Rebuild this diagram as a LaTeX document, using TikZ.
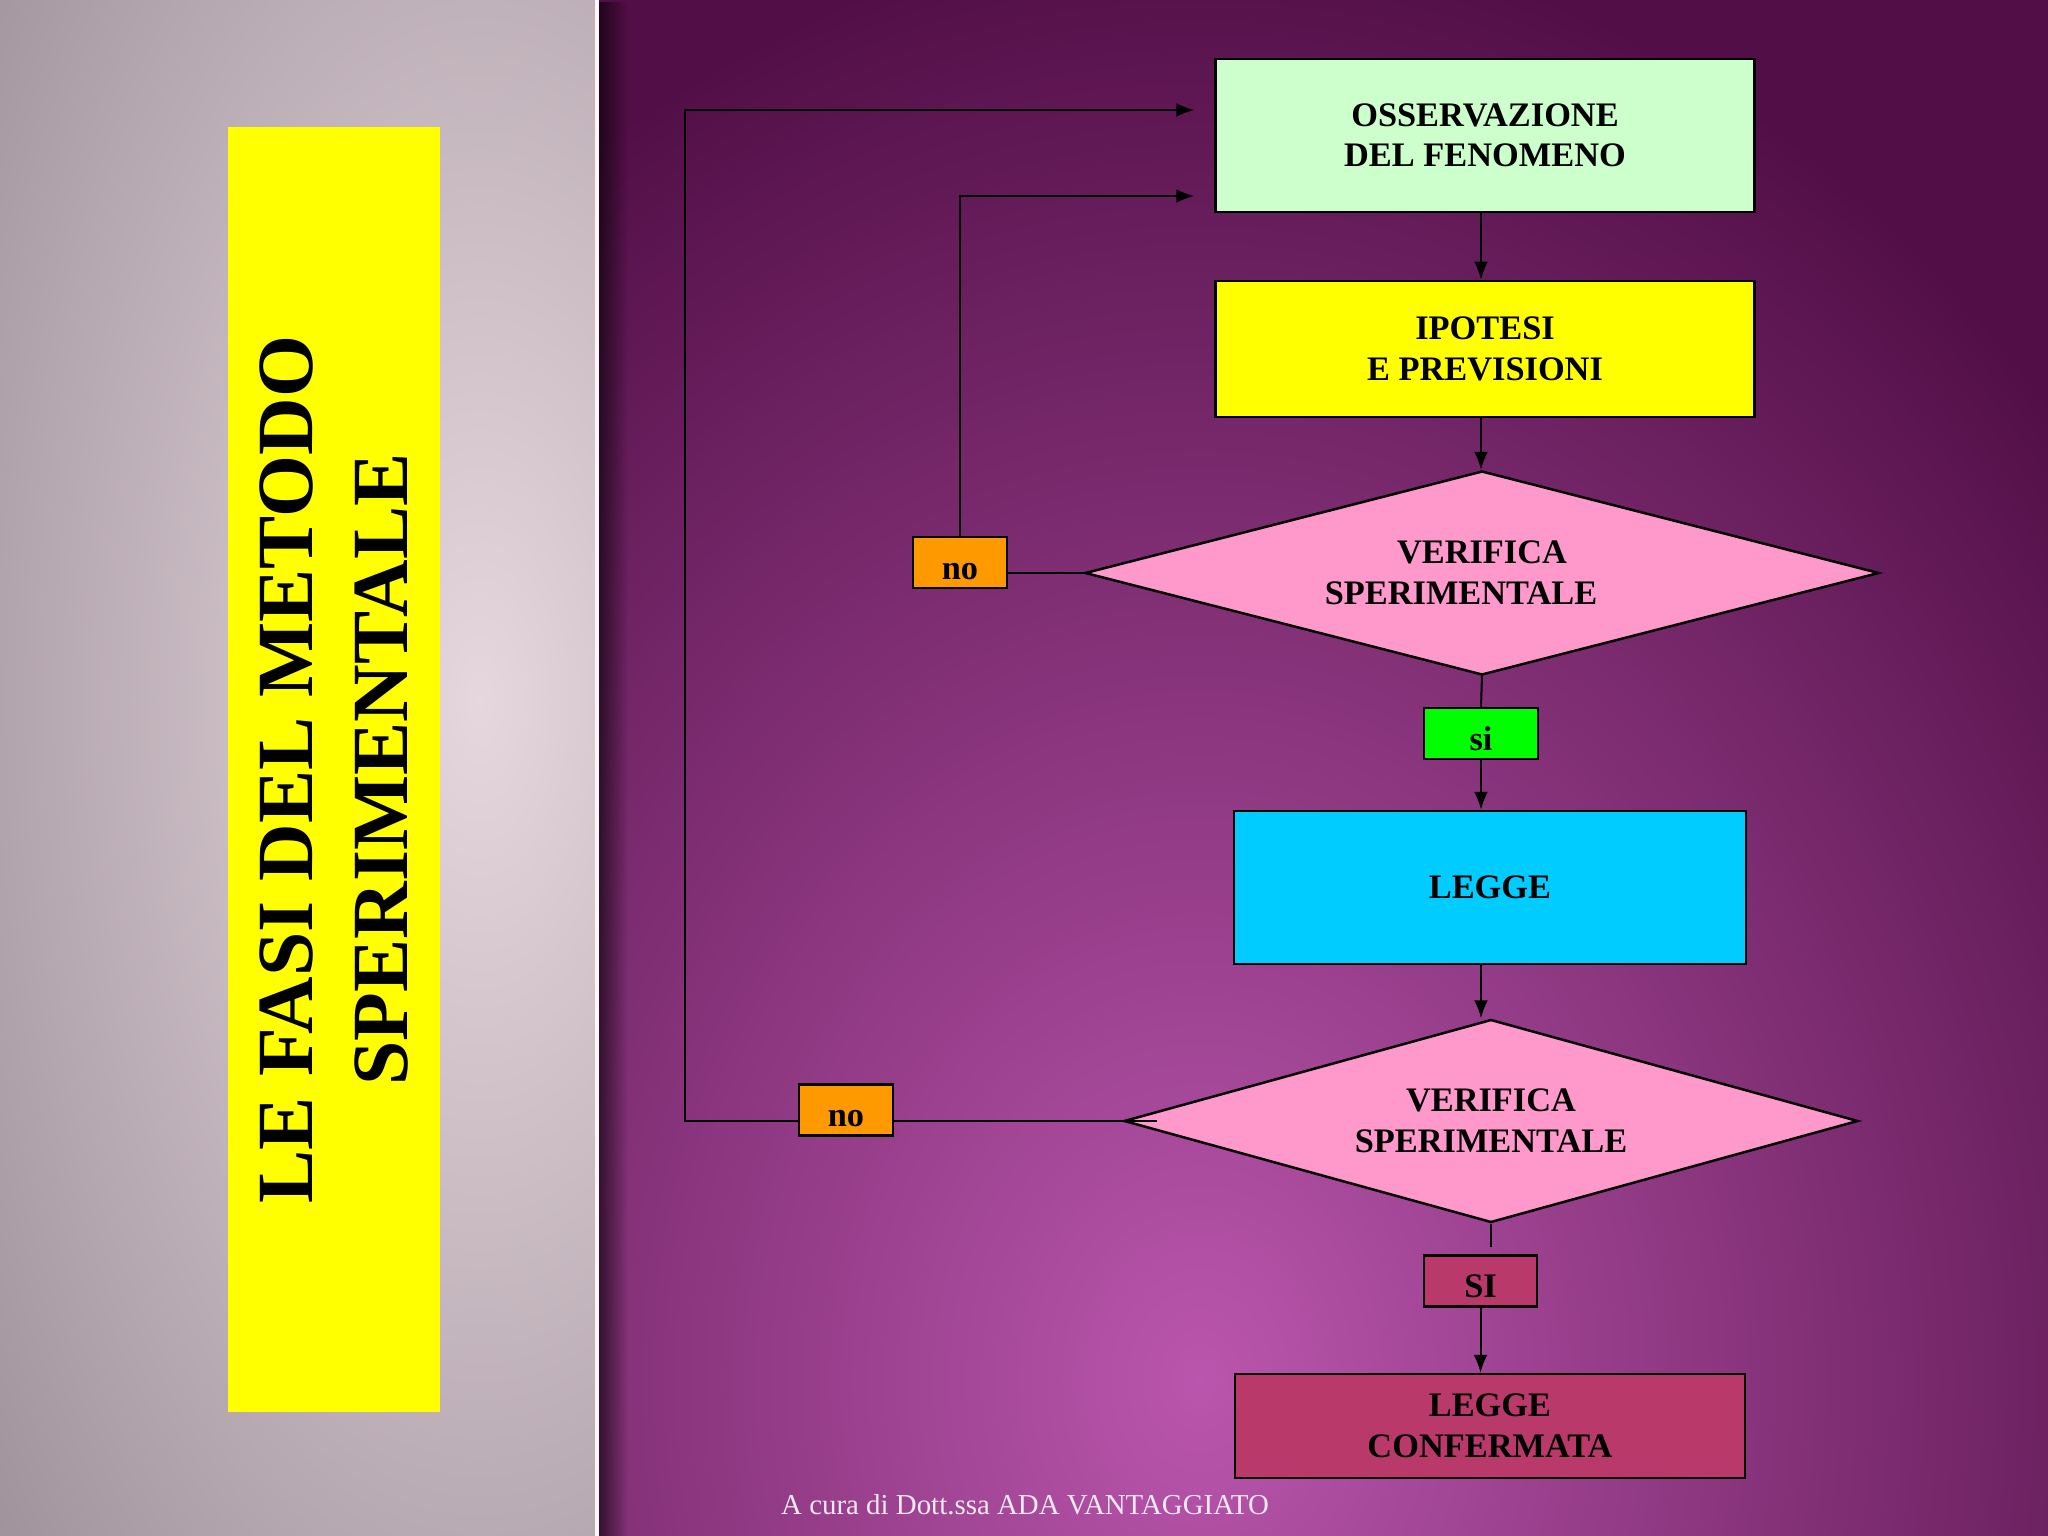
\documentclass[tikz,border=0pt]{standalone}
\usepackage{fontspec}
\setmainfont{Liberation Serif}
\usetikzlibrary{shapes.geometric,fadings,arrows.meta}

\definecolor{leftlight}{HTML}{E6D7DE}
\definecolor{leftdark}{HTML}{9A8C95}
\definecolor{purplelight}{HTML}{BA56AD}
\definecolor{purpledark}{HTML}{520F47}
\definecolor{titlecol}{HTML}{FFFF00}
\definecolor{osscol}{HTML}{CCFFCC}
\definecolor{verifcol}{HTML}{FF99CC}
\definecolor{nocol}{HTML}{FF9900}
\definecolor{sicol}{HTML}{00FF00}
\definecolor{leggecol}{HTML}{00CCFF}
\definecolor{okcol}{HTML}{B93A6A}
\definecolor{creditcol}{HTML}{F4E8F2}

\begin{document}
\begin{tikzpicture}[x=1bp, y=-1bp,
        flowbox/.style={draw, line width=2.5bp, align=center, inner sep=0pt,
            font=\bfseries\fontsize{34.5}{40.7}\selectfont},
        decision/.style={flowbox, diamond, aspect=3.8, fill=verifcol},
        answer/.style={flowbox, minimum width=94bp, text height=42bp, text depth=9bp},
        link/.style={black, line width=2bp},
        flow/.style={link, -{Latex[length=18bp, width=14bp]}}]
    \useasboundingbox (0,0) rectangle (2048,1536);
    \begin{scope}
        \clip (0,0) rectangle (597,1536);
        \fill [leftdark] (0,0) rectangle (597,1536);
        \shade [inner color=leftlight, outer color=leftdark] (480,700) ellipse (700 and 1400);
    \end{scope}
    \begin{scope}
        \clip (599,0) rectangle (2048,1536);
        \fill [purpledark] (599,0) rectangle (2048,1536);
        \shade [inner color=purplelight, outer color=purpledark] (1200,1380) ellipse (1150 and 1450);
        \fill [black, path fading=east, fill opacity=0.6] (599,0) rectangle (628,1536);
    \end{scope}
    \fill [white!88!pink] (595,0) rectangle (599,1536);

    \node [fill=titlecol, rotate=90, minimum width=1285bp, minimum height=212bp, align=center,
        inner sep=0pt, font=\bfseries\fontsize{80}{95}\selectfont] (title) at (334,769.5)
        {LE FASI DEL METODO\\SPERIMENTALE};

    \coordinate (axis) at (1481,0);
    \node [flowbox, fill=osscol, minimum width=539bp, minimum height=153bp] (oss) at (1485,135.5)
        {OSSERVAZIONE\\DEL FENOMENO};
    \node [flowbox, fill=titlecol, minimum width=539bp, minimum height=136bp] (ipo) at (1485,349)
        {IPOTESI\\E PREVISIONI};
    \node [decision, minimum width=794bp, minimum height=204bp] (verif1) at (1482,573)
        {VERIFICA\\SPERIMENTALE\hspace*{42bp}};
    \node [answer, fill=nocol] (no1) at (960,562.5) {no};
    \node [answer, fill=sicol, minimum width=114bp] (si) at (1481,733.5) {si};
    \node [flowbox, fill=leggecol, minimum width=512bp, minimum height=153bp] (legge) at (1490,887.5)
        {LEGGE};
    \node [decision, aspect=3.6, minimum width=734bp, minimum height=203bp] (verif2) at (1491,1121)
        {VERIFICA\\SPERIMENTALE};
    \node [answer, fill=nocol] (no2) at (846,1110) {no};
    \node [answer, fill=okcol, minimum width=113bp] (siok) at (1480.5,1281) {SI};
    \node [flowbox, fill=okcol, minimum width=510bp, minimum height=104bp] (conf) at (1490,1426)
        {LEGGE\\CONFERMATA};

    \draw [flow] (axis |- oss.south) -- (axis |- ipo.north);
    \draw [flow] (axis |- ipo.south) -- (axis |- verif1.north);
    \draw [link] (verif1.south) -- (si.north);
    \draw [flow] (si.south) -- (si.south |- legge.north);
    \draw [flow] (axis |- legge.south) -- (axis |- verif2.north);
    \draw [link] (verif2.south) -- ([yshift=7bp]verif2.south |- siok.north);
    \draw [flow] (siok.south) -- (siok.south |- conf.north);
    \draw [link] (verif1.west) -- (verif1.west -| no1.east);
    \draw [flow] (no1.north) |- ([xshift=-20bp, yshift=-60.5bp]oss.west);
    \draw [link] ([xshift=34bp]verif2.west) -- (verif2.west -| no2.east);
    \draw [flow] (verif2.west -| no2.west) -- ++(-113,0) |- ([xshift=-20bp, yshift=25.5bp]oss.west);

    \node [anchor=base west, text=creditcol, inner sep=0pt, font=\fontsize{29}{30}\selectfont] (credit)
        at (781,1514) {A cura di Dott.ssa ADA VANTAGGIATO};
\end{tikzpicture}
\end{document}
